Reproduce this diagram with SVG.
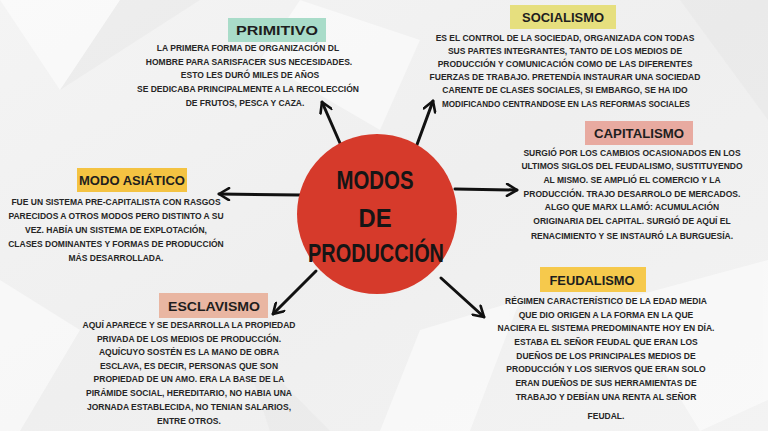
<svg xmlns="http://www.w3.org/2000/svg" width="768" height="431" viewBox="0 0 768 431">
<defs>
<marker id="chev" viewBox="0 0 14 14" refX="12" refY="7" markerWidth="14" markerHeight="14" markerUnits="userSpaceOnUse" orient="auto">
<path d="M2,1 L12,7 L2,13" fill="none" stroke="#111" stroke-width="2.6" stroke-linecap="round" stroke-linejoin="round"/>
</marker>
<linearGradient id="paper" x1="0" y1="0" x2="1" y2="1">
<stop offset="0" stop-color="#f4f4f4"/>
<stop offset="0.5" stop-color="#efefef"/>
<stop offset="1" stop-color="#f3f3f3"/>
</linearGradient>
</defs>
<style>
.t{font-family:"Liberation Sans",Arial,sans-serif;font-weight:bold;font-size:13px;fill:#1e1e1e;text-anchor:middle}
.b{font-family:"Liberation Sans",Arial,sans-serif;font-weight:bold;font-size:8.5px;fill:#262626;text-anchor:middle}
.c{font-family:"Liberation Sans",Arial,sans-serif;font-weight:bold;font-size:25px;fill:#151515;text-anchor:middle}
.a{fill:none;stroke:#111;stroke-width:3;stroke-linecap:round;marker-end:url(#chev)}
</style>
<rect width="768" height="431" fill="url(#paper)"/>
<g fill="#ffffff" opacity="0.5">
<polygon points="0,0 120,0 60,90"/>
<polygon points="300,0 420,40 380,130 260,60"/>
<polygon points="620,300 768,260 768,400 700,431"/>
<polygon points="0,280 80,330 20,431 0,431"/>
<polygon points="420,330 520,300 470,431 380,431"/>
</g>
<g fill="#e2e2e2" opacity="0.35">
<polygon points="120,0 200,0 60,90"/>
<polygon points="680,0 768,0 768,120"/>
<polygon points="240,340 330,431 270,431"/>
</g>

<g id="connectors">
<line class="a" x1="343" y1="150" x2="322" y2="102"/>
<line class="a" x1="415" y1="150" x2="433" y2="101"/>
<line class="a" x1="300" y1="195" x2="219" y2="194"/>
<line class="a" x1="455" y1="189" x2="517" y2="190"/>
<line class="a" x1="316" y1="271" x2="273" y2="314"/>
<line class="a" x1="441" y1="278" x2="484" y2="317"/>
</g>

<g id="center">
<circle cx="377" cy="214" r="80" fill="#d63a2b"/>
<text class="c" x="375" y="189" textLength="77" lengthAdjust="spacingAndGlyphs">MODOS</text>
<text class="c" x="375" y="227" textLength="33" lengthAdjust="spacingAndGlyphs">DE</text>
<text class="c" x="376" y="262" textLength="136" lengthAdjust="spacingAndGlyphs">PRODUCCIÓN</text>
</g>

<g id="primitivo">
<rect x="228" y="18" width="98" height="24" fill="#a9dcc9"/>
<text class="t" x="277" y="35" textLength="82" lengthAdjust="spacingAndGlyphs">PRIMITIVO</text>
<text class="b" x="248" y="51">LA PRIMERA FORMA DE ORGANIZACIÓN DL</text>
<text class="b" x="249" y="65">HOMBRE PARA SARISFACER SUS NECESIDADES.</text>
<text class="b" x="250" y="78">ESTO LES DURÓ MILES DE AÑOS</text>
<text class="b" x="248" y="92">SE DEDICABA PRINCIPALMENTE A LA RECOLECCIÓN</text>
<text class="b" x="245" y="106">DE FRUTOS, PESCA  Y CAZA.</text>
</g>

<g id="socialismo">
<rect x="510" y="5" width="106" height="24" fill="#e6df7e"/>
<text class="t" x="563" y="22" textLength="82" lengthAdjust="spacingAndGlyphs">SOCIALISMO</text>
<text class="b" x="565" y="41">ES EL CONTROL DE LA SOCIEDAD, ORGANIZADA CON TODAS</text>
<text class="b" x="565" y="54">SUS PARTES INTEGRANTES, TANTO DE LOS MEDIOS DE</text>
<text class="b" x="565" y="67">PRODUCCIÓN Y COMUNICACIÓN COMO DE LAS DIFERENTES</text>
<text class="b" x="565" y="80">FUERZAS DE TRABAJO. PRETENDÍA INSTAURAR UNA SOCIEDAD</text>
<text class="b" x="565" y="93">CARENTE DE CLASES SOCIALES, SI EMBARGO, SE HA IDO</text>
<text class="b" x="566" y="107" textLength="248" lengthAdjust="spacingAndGlyphs">MODIFICANDO CENTRANDOSE EN LAS REFORMAS SOCIALES</text>
</g>

<g id="capitalismo">
<rect x="585" y="121" width="108" height="24" fill="#e8aaa0"/>
<text class="t" x="639" y="138" textLength="90" lengthAdjust="spacingAndGlyphs">CAPITALISMO</text>
<text class="b" x="632" y="156">SURGIÓ POR LOS CAMBIOS OCASIONADOS EN LOS</text>
<text class="b" x="632" y="169">ULTIMOS SIGLOS DEL FEUDALISMO, SUSTITUYENDO</text>
<text class="b" x="632" y="183">AL MISMO.  SE AMPLIÓ EL COMERCIO Y LA</text>
<text class="b" x="632" y="197">PRODUCCIÓN. TRAJO DESARROLO DE MERCADOS.</text>
<text class="b" x="632" y="210">ALGO QUE MARX LLAMÓ: ACUMULACIÓN</text>
<text class="b" x="632" y="224">ORIGINARIA DEL CAPITAL. SURGIÓ DE AQUÍ EL</text>
<text class="b" x="632" y="239">RENACIMIENTO Y SE INSTAURÓ LA BURGUESÍA.</text>
</g>

<g id="modo-asiatico">
<rect x="77" y="168" width="110" height="24" fill="#f4c342"/>
<text class="t" x="132" y="185" textLength="106" lengthAdjust="spacingAndGlyphs">MODO ASIÁTICO</text>
<text class="b" x="116" y="205">FUE UN SISTEMA PRE-CAPITALISTA CON RASGOS</text>
<text class="b" x="116" y="219">PARECIDOS A OTROS MODOS PERO DISTINTO A SU</text>
<text class="b" x="116" y="233">VEZ. HABÍA UN SISTEMA DE EXPLOTACIÓN,</text>
<text class="b" x="116" y="247">CLASES DOMINANTES Y FORMAS DE PRODUCCIÓN</text>
<text class="b" x="116" y="261">MÁS DESARROLLADA.</text>
</g>

<g id="esclavismo">
<rect x="159" y="293" width="109" height="25" fill="#e9b6a2"/>
<text class="t" x="214" y="311" textLength="92" lengthAdjust="spacingAndGlyphs">ESCLAVISMO</text>
<text class="b" x="189" y="328">AQUÍ APARECE Y SE DESARROLLA LA PROPIEDAD</text>
<text class="b" x="189" y="342">PRIVADA DE LOS MEDIOS DE PRODUCCIÓN.</text>
<text class="b" x="189" y="355">AQUÍCUYO SOSTÉN ES LA MANO DE OBRA</text>
<text class="b" x="189" y="369">ESCLAVA, ES DECIR, PERSONAS QUE SON</text>
<text class="b" x="189" y="382">PROPIEDAD DE UN AMO. ERA LA BASE DE LA</text>
<text class="b" x="189" y="396">PIRÁMIDE SOCIAL, HEREDITARIO, NO HABIA UNA</text>
<text class="b" x="189" y="410">JORNADA ESTABLECIDA, NO TENIAN SALARIOS,</text>
<text class="b" x="189" y="424">ENTRE OTROS.</text>
</g>

<g id="feudalismo">
<rect x="540" y="267" width="106" height="25" fill="#f6c94c"/>
<text class="t" x="592" y="285" textLength="85" lengthAdjust="spacingAndGlyphs">FEUDALISMO</text>
<text class="b" x="606" y="304">RÉGIMEN CARACTERÍSTICO DE LA EDAD MEDIA</text>
<text class="b" x="606" y="318">QUE DIO ORIGEN A LA FORMA EN LA QUE</text>
<text class="b" x="606" y="331">NACIERA EL SISTEMA PREDOMINANTE HOY EN DÍA.</text>
<text class="b" x="606" y="345">ESTABA EL SEÑOR FEUDAL QUE ERAN LOS</text>
<text class="b" x="606" y="359">DUEÑOS DE LOS PRINCIPALES MEDIOS DE</text>
<text class="b" x="606" y="372">PRODUCCIÓN Y LOS SIERVOS QUE ERAN SOLO</text>
<text class="b" x="606" y="386">ERAN DUEÑOS DE SUS HERRAMIENTAS DE</text>
<text class="b" x="606" y="400">TRABAJO Y DEBÍAN UNA RENTA AL SEÑOR</text>
<text class="b" x="606" y="419">FEUDAL.</text>
</g>
</svg>
